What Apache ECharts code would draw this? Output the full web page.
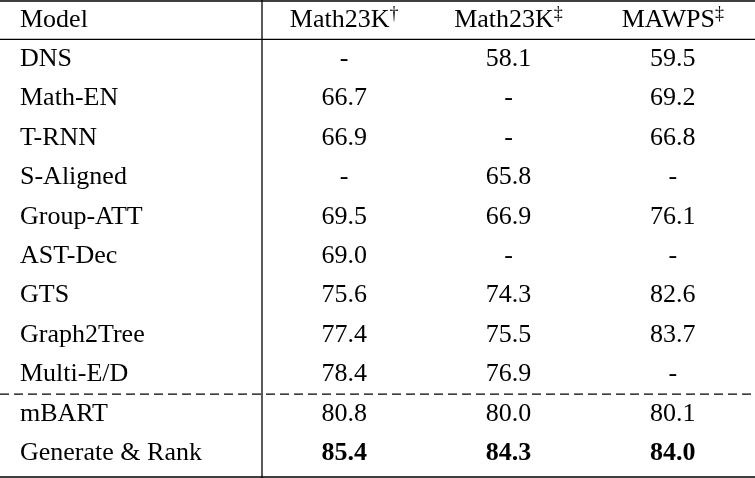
<!DOCTYPE html>
<html><head><meta charset="utf-8">
<script src="https://cdn.jsdelivr.net/npm/echarts@6/dist/echarts.min.js"></script>
<style>html,body{margin:0;background:#fff}#c{width:755px;height:478px}</style>
</head><body><div id="c"></div>
<script>
const models = ["DNS","Math-EN","T-RNN","S-Aligned","Group-ATT","AST-Dec","GTS","Graph2Tree","Multi-E/D","mBART","Generate & Rank"];
const columns = ["Math23K\u2020","Math23K\u2021","MAWPS\u2021"];
const math23kA = ["-","66.7","66.9","-","69.5","69.0","75.6","77.4","78.4","80.8","85.4"];
const math23kB = ["58.1","-","-","65.8","66.9","-","74.3","75.5","76.9","80.0","84.3"];
const mawps    = ["59.5","69.2","66.8","-","76.1","-","82.6","83.7","-","80.1","84.0"];
const rows = ["Model"].concat(models);
const cols = [math23kA, math23kB, mawps];
const font = "Liberation Serif";
const data = [];
columns.forEach((c,ci)=>{
  data.push({value:[ci,0], label:{formatter:'{a|'+c.slice(0,-1)+'}{s|'+c.slice(-1)+'}'}});
  cols[ci].forEach((v,ri)=>{
    const bold = ri===models.length-1;
    data.push({value:[ci,ri+1], label:{formatter:v, fontWeight: bold?'bold':'normal'}});
  });
});
const chart = echarts.init(document.getElementById('c'));
chart.setOption({
  animation:false,
  grid:{left:262,right:0,top:0,height:473},
  xAxis:{type:'category',data:columns,show:false},
  yAxis:{type:'category',data:rows,inverse:true,axisTick:{show:false},axisLine:{show:false},
    axisLabel:{align:'left',margin:242,fontFamily:font,fontSize:26,color:'#000'},splitLine:{show:false}},
  series:[{type:'scatter',symbolSize:0,data:data,silent:true,itemStyle:{opacity:1,color:'#000'},
    label:{show:true,position:'inside',fontFamily:font,fontSize:26,color:'#000',opacity:1,
      rich:{a:{fontFamily:font,fontSize:26,color:'#000'},s:{fontFamily:font,fontSize:18,color:'#000',verticalAlign:'top',padding:[0,0,10,0]}}}}]
});
function yb(i){return chart.convertToPixel({yAxisIndex:0},rows[i]) - 19.7;}
const Y0=1, Y1=yb(1), Yd=yb(10), Y2=477;
const ln=(x1,y1,x2,y2,d)=>({type:'line',shape:{x1,y1,x2,y2},style:{stroke:'#000',lineWidth:1.3,lineDash:d?[9,5]:null}});
chart.setOption({graphic:[ln(0,Y0,755,Y0),ln(0,Y1,755,Y1),ln(0,Yd,755,Yd,true),ln(0,Y2,755,Y2),ln(262,0,262,478)]});
</script></body></html>
